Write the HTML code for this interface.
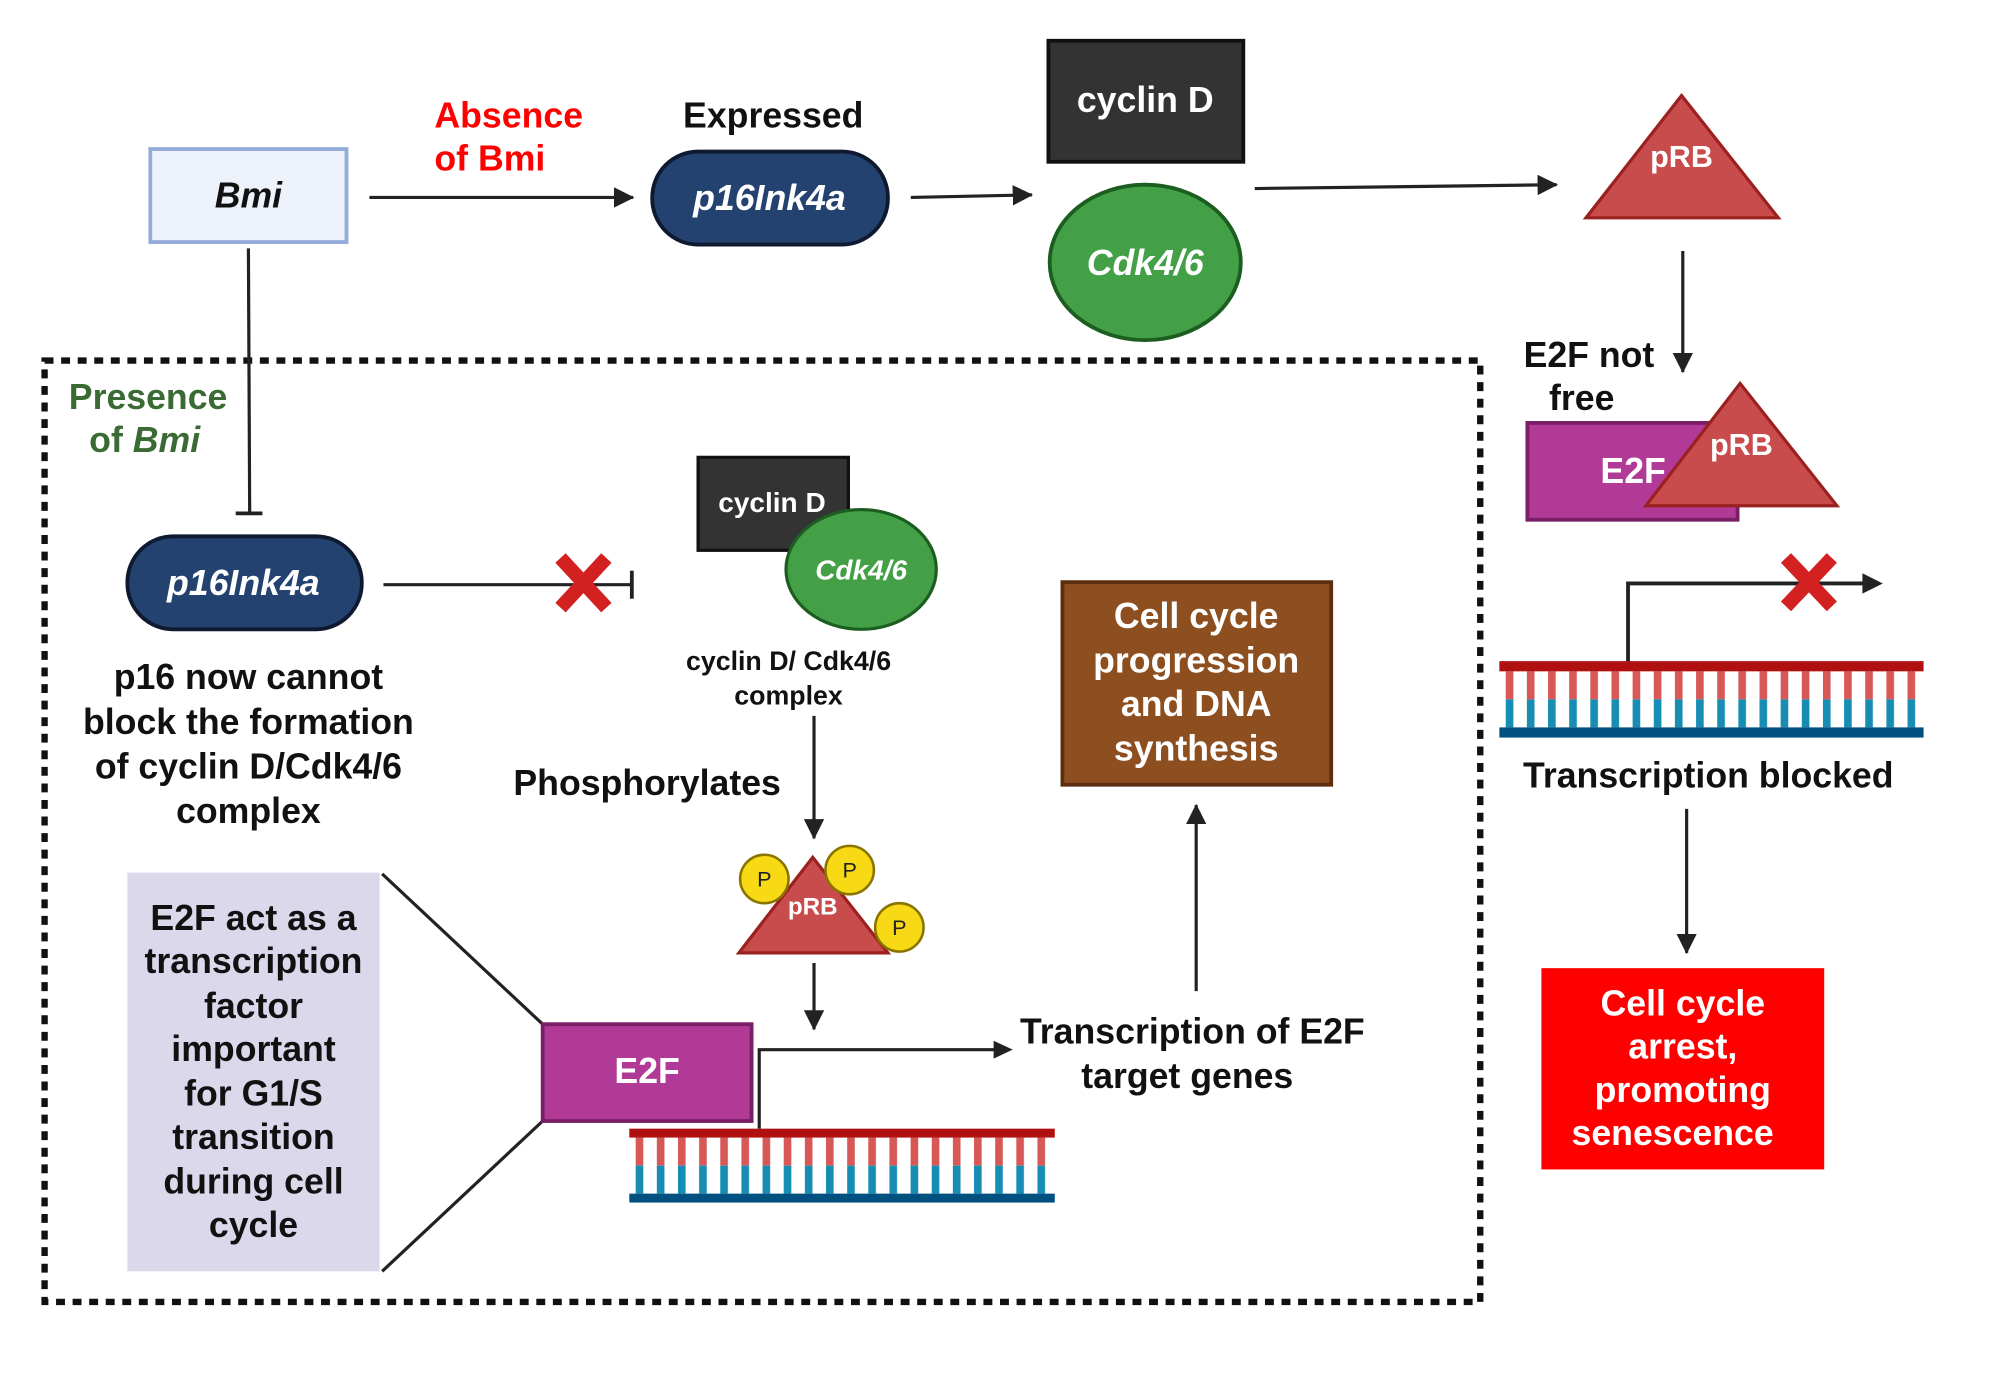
<!DOCTYPE html>
<html><head><meta charset="utf-8"><style>
html,body{margin:0;padding:0;background:#fff;}
svg{display:block;}
text{font-family:"Liberation Sans",sans-serif;font-weight:bold;}
</style></head><body>
<svg width="2000" height="1400" viewBox="0 0 1570 1099" preserveAspectRatio="none" xmlns="http://www.w3.org/2000/svg">
<defs>
<marker id="ahb" markerWidth="16" markerHeight="16" refX="15" refY="8" orient="auto" markerUnits="userSpaceOnUse" viewBox="0 0 16 16">
<path d="M0,0 L16,8 L0,16 z" fill="#222"/></marker>
<pattern id="dna" x="1177" y="527" width="16.6" height="44" patternUnits="userSpaceOnUse">
<rect x="5" y="0" width="6" height="22" fill="#d85858"/>
<rect x="5" y="22" width="6" height="22" fill="#178db3"/>
</pattern>
<pattern id="dna2" x="494" y="893" width="16.6" height="44" patternUnits="userSpaceOnUse">
<rect x="5" y="0" width="6" height="22" fill="#d85858"/>
<rect x="5" y="22" width="6" height="22" fill="#178db3"/>
</pattern>
</defs>

<rect x="118" y="117" width="154" height="73" fill="#eef2fb" stroke="#93abd9" stroke-width="3"/>
<text x="195" y="163" font-size="28" font-style="italic" text-anchor="middle" fill="#111">Bmi</text>
<text x="341" y="100" font-size="28" fill="#f00">Absence</text>
<text x="341" y="134" font-size="28" fill="#f00">of Bmi</text>
<line x1="290" y1="155" x2="497" y2="155" stroke="#222" stroke-width="2.5" marker-end="url(#ahb)"/>
<text x="607" y="100" font-size="28" text-anchor="middle" fill="#111">Expressed</text>
<rect x="512" y="119" width="185" height="73" rx="36" fill="#234270" stroke="#0f1a30" stroke-width="3"/>
<text x="604" y="165" font-size="28" font-style="italic" text-anchor="middle" fill="#fff">p16Ink4a</text>
<line x1="715" y1="155" x2="810" y2="153" stroke="#222" stroke-width="2.5" marker-end="url(#ahb)"/>
<rect x="823" y="32" width="153" height="95" fill="#333" stroke="#111" stroke-width="3"/>
<text x="899" y="88" font-size="28" text-anchor="middle" fill="#fff">cyclin D</text>
<ellipse cx="899" cy="206" rx="75" ry="61" fill="#43a047" stroke="#1b5e20" stroke-width="3"/>
<text x="899" y="216" font-size="28" font-style="italic" text-anchor="middle" fill="#fff">Cdk4/6</text>
<line x1="985" y1="148" x2="1222" y2="145" stroke="#222" stroke-width="2.5" marker-end="url(#ahb)"/>
<polygon points="1320,75 1396,171 1245,171" fill="#c94c4c" stroke="#9b2020" stroke-width="2.5"/>
<text x="1320" y="131" font-size="24" text-anchor="middle" fill="#fff">pRB</text>
<line x1="1321" y1="197" x2="1321" y2="292" stroke="#222" stroke-width="2.5" marker-end="url(#ahb)"/>

<text x="1196" y="288" font-size="28" fill="#111">E2F not</text>
<text x="1216" y="322" font-size="28" fill="#111">free</text>
<rect x="1199" y="332" width="165" height="76" fill="#b03a96" stroke="#7a1f66" stroke-width="3"/>
<text x="1282" y="379" font-size="28" text-anchor="middle" fill="#fff">E2F</text>
<polygon points="1366,301 1442,397 1292,397" fill="#c94c4c" stroke="#9b2020" stroke-width="2.5"/>
<text x="1367" y="357" font-size="24" text-anchor="middle" fill="#fff">pRB</text>
<polyline points="1278,520 1278,458 1465,458" fill="none" stroke="#222" stroke-width="3"/>
<path d="M1462,450 L1478,458 L1462,466 z" fill="#222"/>
<g stroke="#d32020" stroke-width="11"><line x1="1402" y1="438" x2="1438" y2="476"/><line x1="1438" y1="438" x2="1402" y2="476"/></g>
<rect x="1177" y="527" width="333" height="44" fill="url(#dna)"/>
<rect x="1177" y="519" width="333" height="8" fill="#b01010"/>
<rect x="1177" y="571" width="333" height="8" fill="#005080"/>
<text x="1341" y="618" font-size="28" text-anchor="middle" fill="#111">Transcription blocked</text>
<line x1="1324" y1="635" x2="1324" y2="748" stroke="#222" stroke-width="2.5" marker-end="url(#ahb)"/>
<rect x="1210" y="760" width="222" height="158" fill="#f00"/>
<text font-size="28" text-anchor="middle" fill="#fff"><tspan x="1321" y="797">Cell cycle</tspan><tspan x="1321" y="831">arrest,</tspan><tspan x="1321" y="865">promoting</tspan><tspan x="1313" y="899">senescence</tspan></text>

<rect x="35" y="283" width="1127" height="739" fill="none" stroke="#111" stroke-width="5" stroke-dasharray="7,6"/>
<line x1="195" y1="195" x2="196" y2="403" stroke="#222" stroke-width="2.5"/>
<line x1="185" y1="403" x2="206" y2="403" stroke="#222" stroke-width="3"/>
<text x="54" y="321" font-size="28" fill="#3a6b35">Presence</text>
<text x="70" y="355" font-size="28" fill="#3a6b35">of <tspan font-style="italic">Bmi</tspan></text>
<rect x="100" y="421" width="184" height="73" rx="36" fill="#234270" stroke="#0f1a30" stroke-width="3"/>
<text x="191" y="467" font-size="28" font-style="italic" text-anchor="middle" fill="#fff">p16Ink4a</text>
<line x1="301" y1="459" x2="496" y2="459" stroke="#222" stroke-width="2.5"/>
<line x1="496" y1="448" x2="496" y2="470" stroke="#222" stroke-width="3"/>
<g stroke="#d32020" stroke-width="11"><line x1="440" y1="438" x2="476" y2="477"/><line x1="476" y1="438" x2="440" y2="477"/></g>
<text font-size="28" text-anchor="middle" fill="#111"><tspan x="195" y="541">p16 now cannot</tspan><tspan x="195" y="576">block the formation</tspan><tspan x="195" y="611">of cyclin D/Cdk4/6</tspan><tspan x="195" y="646">complex</tspan></text>

<rect x="548" y="359" width="118" height="73" fill="#333" stroke="#111" stroke-width="2.5"/>
<text x="606" y="402" font-size="22" text-anchor="middle" fill="#fff">cyclin D</text>
<ellipse cx="676" cy="447" rx="59" ry="47" fill="#43a047" stroke="#1b5e20" stroke-width="2.5"/>
<text x="676" y="455" font-size="22" font-style="italic" text-anchor="middle" fill="#fff">Cdk4/6</text>
<text font-size="21" text-anchor="middle" fill="#111"><tspan x="619" y="526">cyclin D/ Cdk4/6</tspan><tspan x="619" y="553">complex</tspan></text>
<text x="508" y="624" font-size="28" text-anchor="middle" fill="#111">Phosphorylates</text>
<line x1="639" y1="562" x2="639" y2="658" stroke="#222" stroke-width="2.5" marker-end="url(#ahb)"/>
<polygon points="638,673 697,748 580,748" fill="#c94c4c" stroke="#9b2020" stroke-width="2.5"/>
<text x="638" y="718" font-size="19" text-anchor="middle" fill="#fff">pRB</text>
<g fill="#f7d916" stroke="#8a7400" stroke-width="2">
<circle cx="600" cy="690" r="19"/><circle cx="667" cy="683" r="19"/><circle cx="706" cy="728" r="19"/></g>
<g font-size="17" text-anchor="middle" fill="#222">
<text x="600" y="696" style="font-weight:normal">P</text><text x="667" y="689" style="font-weight:normal">P</text><text x="706" y="734" style="font-weight:normal">P</text></g>
<line x1="639" y1="756" x2="639" y2="808" stroke="#222" stroke-width="2.5" marker-end="url(#ahb)"/>

<rect x="100" y="685" width="198" height="313" fill="#dcd8ec"/>
<text font-size="28" text-anchor="middle" fill="#111"><tspan x="199" y="730">E2F act as a</tspan><tspan x="199" y="764">transcription</tspan><tspan x="199" y="799">factor</tspan><tspan x="199" y="833">important</tspan><tspan x="199" y="868">for G1/S</tspan><tspan x="199" y="902">transition</tspan><tspan x="199" y="937">during cell</tspan><tspan x="199" y="971">cycle</tspan></text>
<line x1="300" y1="686" x2="426" y2="804" stroke="#222" stroke-width="2.5"/>
<line x1="300" y1="998" x2="426" y2="880" stroke="#222" stroke-width="2.5"/>
<rect x="426" y="804" width="164" height="76" fill="#b03a96" stroke="#7a1f66" stroke-width="3"/>
<text x="508" y="850" font-size="28" text-anchor="middle" fill="#fff">E2F</text>
<rect x="494" y="893" width="334" height="44" fill="url(#dna2)"/>
<rect x="494" y="886" width="334" height="7" fill="#b01010"/>
<rect x="494" y="937" width="334" height="7" fill="#005080"/>
<polyline points="596,886 596,824 782,824" fill="none" stroke="#222" stroke-width="2.5"/>
<path d="M780,817 L795,824 L780,831 z" fill="#222"/>
<text font-size="28" text-anchor="middle" fill="#111"><tspan x="936" y="819">Transcription of E2F</tspan><tspan x="932" y="854">target genes</tspan></text>
<line x1="939" y1="778" x2="939" y2="632" stroke="#222" stroke-width="2.5" marker-end="url(#ahb)"/>
<rect x="834" y="457" width="211" height="159" fill="#8d4f1f" stroke="#5a2e0e" stroke-width="3"/>
<text font-size="28" text-anchor="middle" fill="#fff"><tspan x="939" y="493">Cell cycle</tspan><tspan x="939" y="528">progression</tspan><tspan x="939" y="562">and DNA</tspan><tspan x="939" y="597">synthesis</tspan></text>
</svg>
</body></html>
